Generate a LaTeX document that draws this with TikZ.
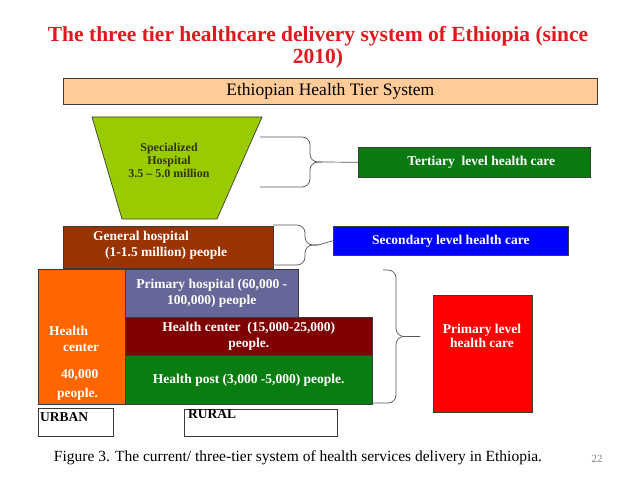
\documentclass[tikz,border=0pt]{standalone}
\usepackage{fontspec}
\setmainfont{Liberation Serif}
\usetikzlibrary{positioning,calc}
\definecolor{ethTitle}{HTML}{E0191E}
\definecolor{ethEdge}{HTML}{3A3A3A}
\definecolor{ethBanner}{HTML}{FFCC99}
\definecolor{ethSpec}{HTML}{99CC00}
\definecolor{ethSpecTxt}{HTML}{33330A}
\definecolor{ethTert}{HTML}{0B7A12}
\definecolor{ethSec}{HTML}{0000FF}
\definecolor{ethGen}{HTML}{993300}
\definecolor{ethUrban}{HTML}{FF6600}
\definecolor{ethPrimHosp}{HTML}{666699}
\definecolor{ethCenter}{HTML}{7F0000}
\definecolor{ethPost}{HTML}{0A7D12}
\definecolor{ethPrim}{HTML}{FF0000}
\definecolor{ethGrey}{HTML}{555555}
\tikzset{
  tier/.style={
    draw=ethEdge, line width=0.6pt, fill=#1, anchor=north west,
    inner sep=2pt, align=center, text=white,
    font=\bfseries\fontsize{13.5}{15.5}\selectfont},
  tier/.default=white,
  boxsize/.style 2 args={minimum width=#1pt, minimum height=#2pt},
  tiertext/.style={
    text=white, inner sep=0pt, font=\bfseries\fontsize{13.5}{16}\selectfont},
  areabox/.style={
    draw=ethEdge, line width=0.7pt, fill=white, anchor=north west, inner sep=0pt},
  areatext/.style={font=\bfseries\fontsize{13.5}{14}\selectfont, inner sep=0pt,
    anchor=base west},
  bracket/.style={draw=ethGrey, line width=0.7pt, rounded corners=8pt},
  link/.style={draw=ethGrey, line width=0.7pt},
}

\begin{document}
\begin{tikzpicture}[x=1pt,y=-1pt]
\useasboundingbox (0,0) rectangle (638,478);

\node[font=\bfseries\fontsize{21.5}{22}\selectfont, text=ethTitle, align=center]
  (title) at (318,47)
  {The three tier healthcare delivery system of Ethiopia (since\\2010)};

\node[draw=ethEdge, line width=0.7pt, fill=ethBanner, anchor=north west,
  boxsize={534}{26}, font=\fontsize{17.5}{19}\selectfont]
  (banner) at (63,78) {Ethiopian Health Tier System};

% tertiary level
\draw[draw=ethEdge, line width=0.7pt, fill=ethSpec]
  (92,117) -- (262,117) -- (217,219) -- (122,219) -- cycle;
\node[align=center, text=ethSpecTxt, font=\bfseries\fontsize{12}{13}\selectfont]
  (spec) at (169,160) {Specialized\\Hospital\\3.5 -- 5.0 million};
\node[tier=ethTert, boxsize={232}{30}] (tert) at (358,147)
  {\hspace*{14pt}Tertiary\ \ level health care};

% secondary level
\node[tier=ethGen, boxsize={210}{42}] (gen) at (63,226) {};
\node[tiertext, anchor=west, align=left] (gentxt) at (93,245)
  {General hospital\\\hspace{12pt}(1-1.5 million) people};
\node[tier=ethSec, boxsize={235}{29}] (sec) at (333,226)
  {Secondary level health care};

% primary level
\node[tier=ethUrban, boxsize={87}{135}] (urban) at (38,269) {};
\node[tiertext, anchor=north west, align=left] (urbantxt) at (49,326)
  {Health\\\hspace{14pt}center\\[11pt]\hspace{12pt}40,000\\[3pt]\hspace{8pt}people.};
\node[tier=ethPrimHosp, boxsize={173}{48}] (primhosp) at (125,269)
  {Primary hospital (60,000 -\\100,000) people};
\node[tier=ethCenter, boxsize={247}{38}] (hcenter) at (125,317)
  {Health center\ \ (15,000-25,000)\\people.};
\node[tier=ethPost, boxsize={247}{49}] (hpost) at (125,355)
  {Health post (3,000 -5,000) people.};
\node[tier=ethPrim, boxsize={99}{117}] (prim) at (433,295) {};
\node[tiertext, align=center, font=\bfseries\fontsize{13.5}{14}\selectfont]
  (primtxt) at (482,336) {Primary level\\health care};

% braces grouping the levels
\foreach \xa/\ya/\xb/\yb/\xs/\xt [count=\i] in {%
  260/137/260/187/310/322,
  273/225/273/265/305/318,
  383/270/372/403/396/420%
} {
  \coordinate (T\i) at (\xt,{(\ya+\yb)/2});
  \draw[bracket] (\xa,\ya) -- (\xs,\ya) -- (\xs,{(\ya+\yb)/2}) -- (T\i);
  \draw[bracket] (\xb,\yb) -- (\xs,\yb) -- (\xs,{(\ya+\yb)/2}) -- (T\i);
}
\draw[link] (T1) -- (tert.west);
\draw[link] (T2) -- (sec.west);

% urban / rural
\node[areabox, boxsize={75}{28}] (urb) at (38,408) {};
\node[areatext] (urbtxt) at (40,422) {URBAN};
\node[areabox, boxsize={153}{27}] (rur) at (184,409) {};
\node[areatext] (rurtxt) at (188,419) {RURAL};

\node[font=\fontsize{15.5}{17}\selectfont] (caption) at (298,458)
  {Figure 3. The current/ three-tier system of health services delivery in Ethiopia.};
\node[font=\fontsize{11}{12}\selectfont, text=gray] (page) at (597,459) {22};

\end{tikzpicture}
\end{document}
